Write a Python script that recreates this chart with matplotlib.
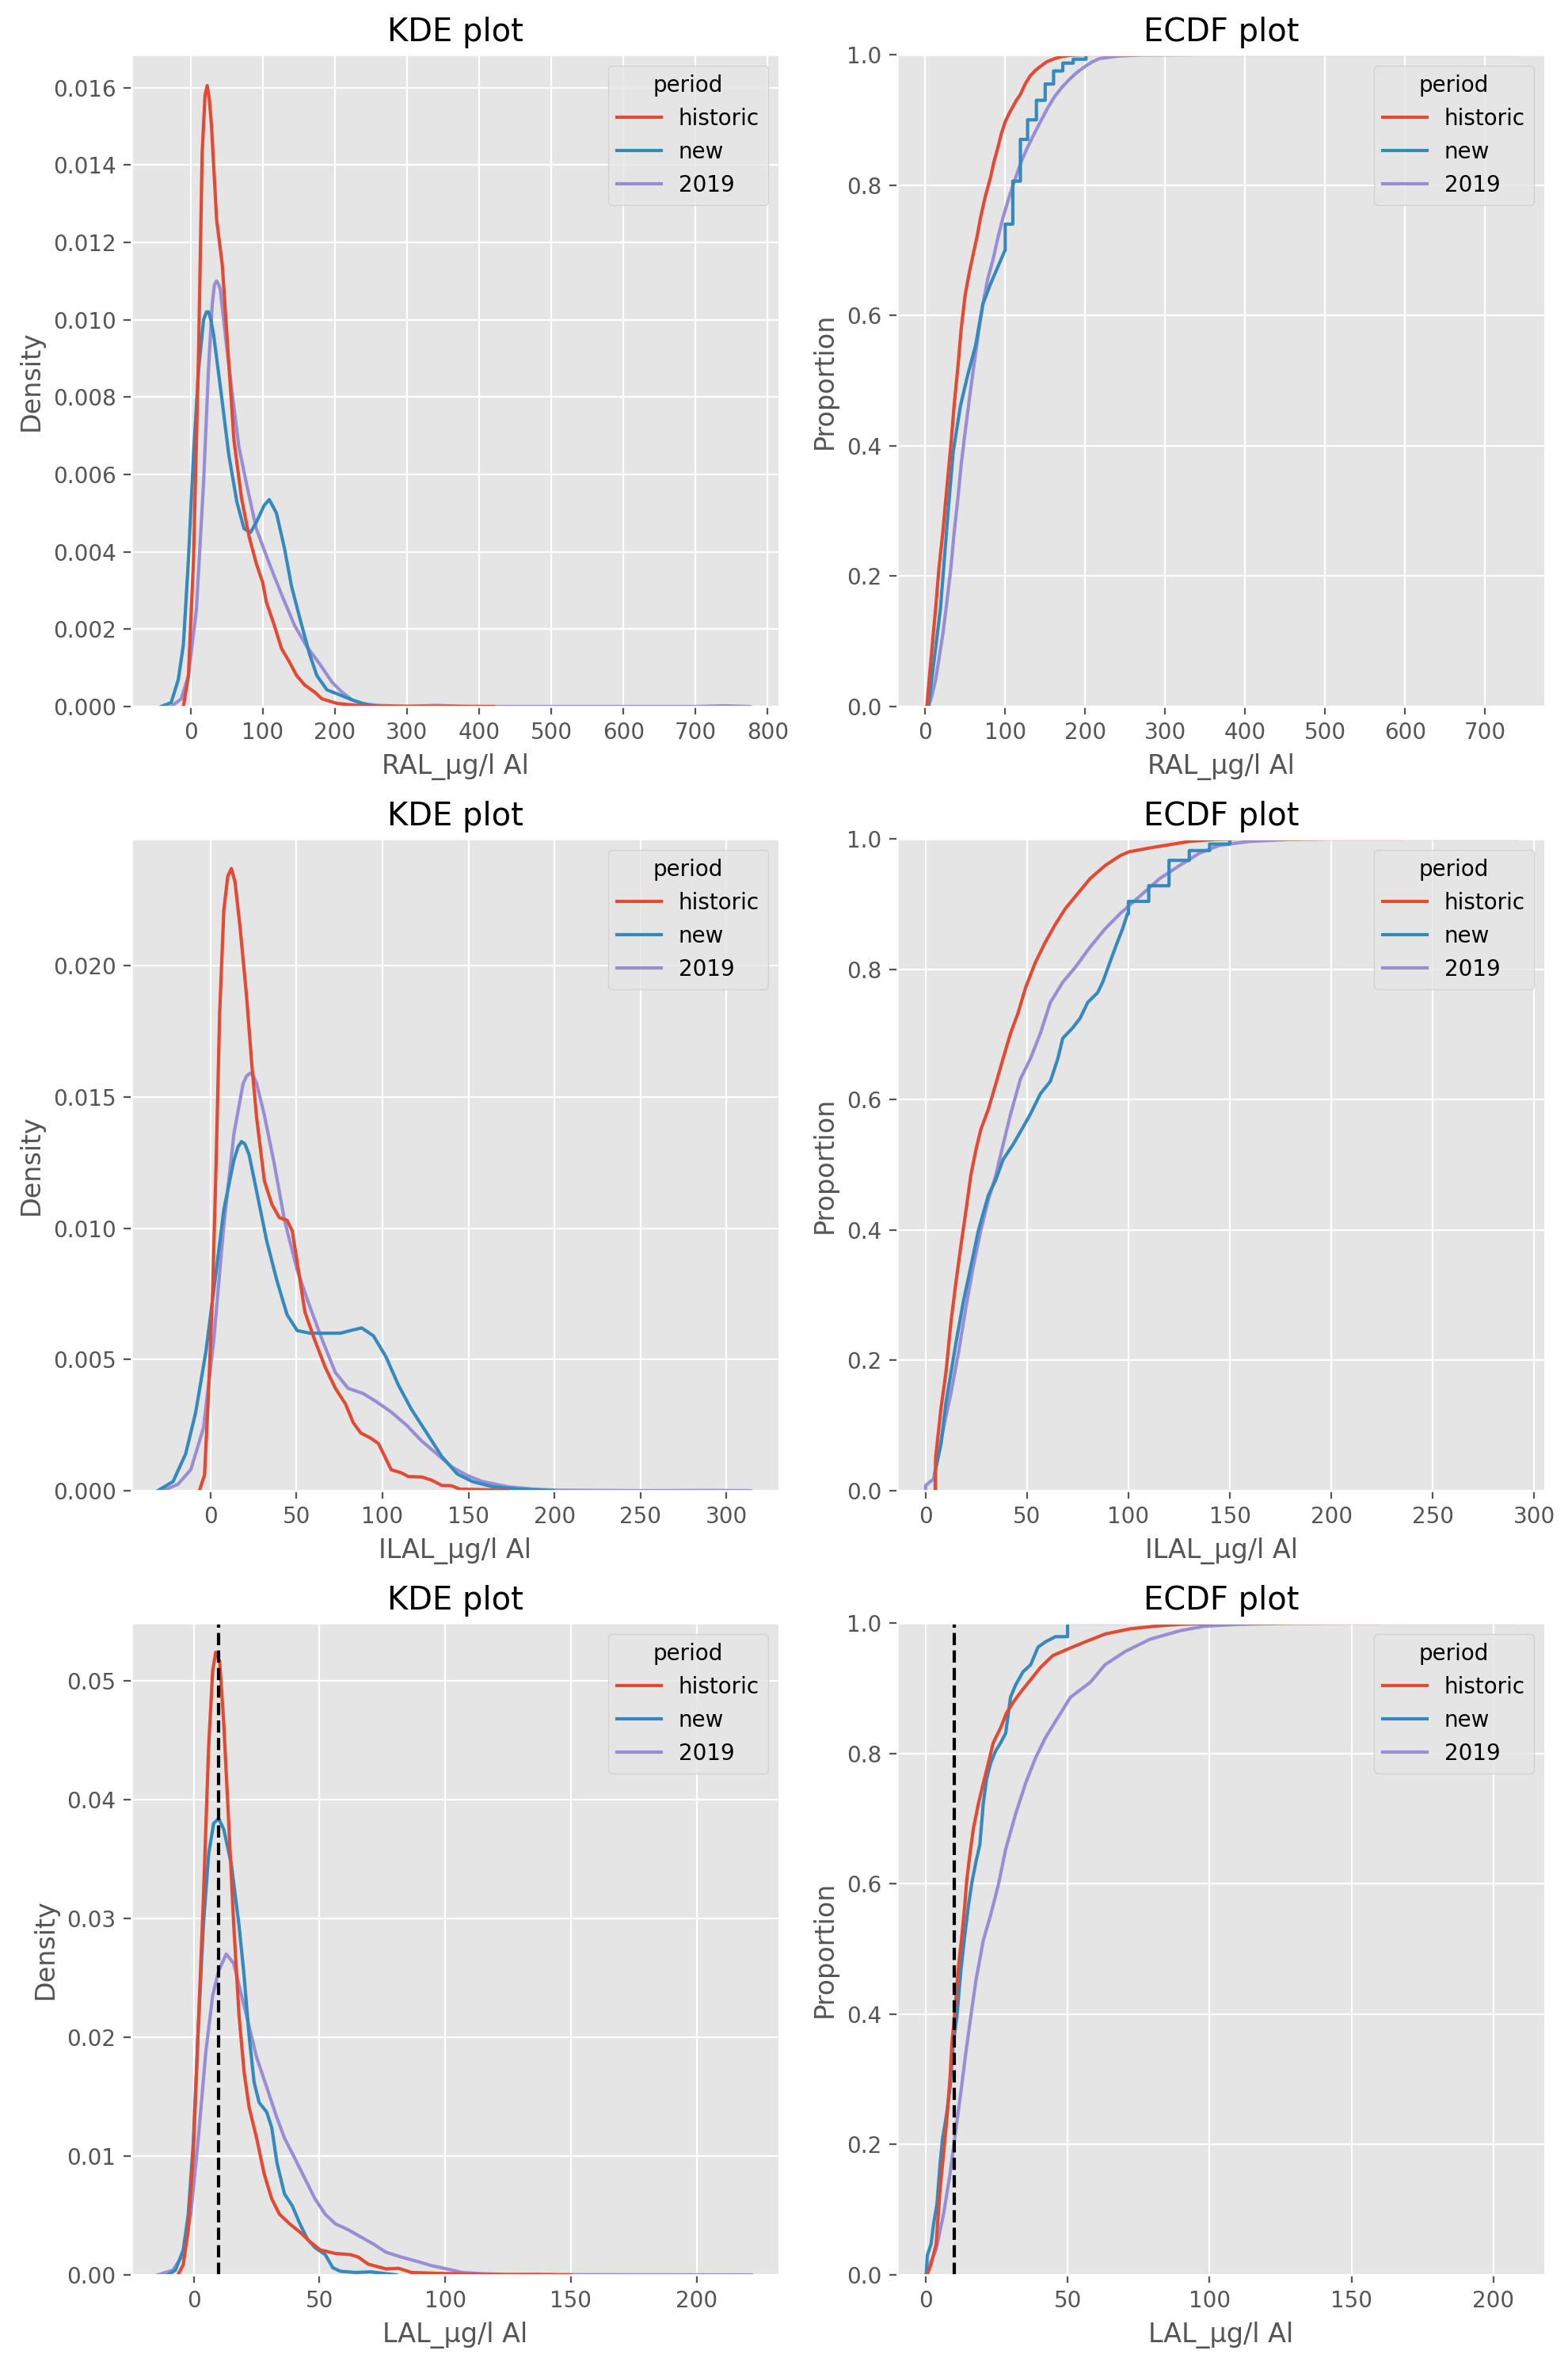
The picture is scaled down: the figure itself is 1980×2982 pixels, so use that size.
import matplotlib
matplotlib.use("Agg")
import matplotlib.pyplot as plt

plt.style.use("ggplot")

periods = ["historic", "new", "2019"]
colors = ["#E24A33", "#348ABD", "#988ED5"]
threshold = 10

# ---------------- RAL ----------------
ral_kde_hist_x = [-10, -3, 4, 11, 16, 20, 23, 26, 29, 36, 44, 50, 60, 70.5, 81, 91, 100, 105, 116, 126, 137, 147,
                  158, 172, 182, 203, 231, 260, 300, 350, 420]
ral_kde_hist_y = [0, 0.0008, 0.0038, 0.0091, 0.0143, 0.0158, 0.01605, 0.0157, 0.0150, 0.0126, 0.0114, 0.0097,
                  0.0069, 0.0054, 0.0044, 0.0037, 0.0032, 0.0027, 0.0021, 0.0015, 0.00115, 0.0008, 0.00056,
                  0.00037, 0.0002, 0.00008, 0.00003, 0.00001, 0.000005, 0.000002, 0]
ral_kde_new_x = [-41, -27, -17, -10, -3, 4, 11, 18, 22, 25, 28, 32, 43, 53, 64, 74, 83, 91, 102, 109, 119, 130,
                 140, 154, 165, 175, 189, 203, 224, 245, 266]
ral_kde_new_y = [0, 0.0001, 0.0007, 0.0016, 0.0038, 0.0065, 0.0087, 0.0100, 0.0102, 0.0102, 0.0100, 0.0096,
                 0.0080, 0.0065, 0.0053, 0.0046, 0.0045, 0.00476, 0.0052, 0.00535, 0.0050, 0.0041, 0.0031,
                 0.0021, 0.00135, 0.0008, 0.00043, 0.00033, 0.00017, 0.00004, 0]
ral_kde_2019_x = [-27, -13, -3, 8, 18, 25, 30, 33, 36, 39, 41, 50, 57, 67, 77, 91, 109, 126, 144, 161, 179, 196,
                  210, 224, 238, 259, 301, 340, 380, 450, 700, 740, 775]
ral_kde_2019_y = [0, 0.0002, 0.0008, 0.0025, 0.0058, 0.0088, 0.0104, 0.0109, 0.0110, 0.0109, 0.0108, 0.0093,
                  0.0082, 0.0067, 0.0058, 0.0046, 0.0037, 0.0029, 0.0021, 0.00155, 0.0011, 0.00063, 0.00037,
                  0.00017, 0.00008, 0.00003, 0.000005, 0.00003, 0.000005, 0, 0, 0.00002, 0]

ral_ecdf_hist_x = [2, 7, 13, 17, 22, 27, 32, 36, 41, 45, 50, 55, 60, 65, 69, 75, 81.5, 86, 91, 95, 100, 105,
                   109.5, 114, 119, 125, 131, 137, 144, 152, 162, 171, 181, 193, 206, 330]
ral_ecdf_hist_y = [0, 0.07, 0.15, 0.21, 0.267, 0.335, 0.40, 0.46, 0.523, 0.58, 0.632, 0.665, 0.694, 0.722,
                   0.749, 0.782, 0.811, 0.836, 0.858, 0.878, 0.897, 0.910, 0.920, 0.930, 0.939, 0.955, 0.967,
                   0.975, 0.982, 0.989, 0.994, 0.997, 0.999, 0.9997, 1.0, 1.0]
ral_ecdf_new_x = [4, 19, 29, 35, 44, 53, 63, 72, 81.5, 91, 99, 100, 100, 109.5, 109.5, 119, 119, 128, 128, 139,
                  139, 150, 150, 160.5, 160.5, 172, 172, 185, 185, 201, 201]
ral_ecdf_new_y = [0, 0.15, 0.305, 0.391, 0.461, 0.508, 0.554, 0.617, 0.648, 0.675, 0.698, 0.70, 0.74, 0.74,
                  0.806, 0.806, 0.87, 0.87, 0.90, 0.90, 0.93, 0.93, 0.955, 0.955, 0.975, 0.975, 0.987, 0.987,
                  0.993, 0.993, 1.0]
ral_ecdf_2019_x = [4, 8, 13, 17, 22, 27, 32, 36, 41, 45, 50, 55, 60, 66, 72, 78, 85, 91, 97, 105, 113, 120,
                   128, 136, 144, 153, 162, 171, 181, 190, 200, 209, 218, 230, 243, 270, 343, 740]
ral_ecdf_2019_y = [0, 0.015, 0.041, 0.072, 0.111, 0.160, 0.212, 0.265, 0.321, 0.372, 0.422, 0.470, 0.516,
                   0.568, 0.617, 0.655, 0.687, 0.720, 0.749, 0.782, 0.811, 0.836, 0.858, 0.878, 0.897, 0.918,
                   0.936, 0.950, 0.963, 0.973, 0.982, 0.989, 0.994, 0.996, 0.998, 0.9995, 1.0, 1.0]

# ---------------- ILAL ----------------
ilal_kde_hist_x = [-6.5, -3.5, -1.2, 1.2, 3.2, 5.3, 7.7, 10, 12.1, 14.2, 17.1, 21, 23.9, 26.8, 31.3, 35.7, 40,
                   44.5, 47.5, 50.4, 54.9, 60.8, 66.7, 72.6, 78.5, 82.9, 87.3, 93.2, 97.6, 100.6, 105, 111,
                   115, 123, 128.6, 134.5, 140, 145, 158, 173]
ilal_kde_hist_y = [0, 0.0006, 0.0037, 0.0076, 0.0124, 0.0182, 0.0221, 0.0234, 0.0237, 0.0232, 0.0215, 0.0188,
                   0.0163, 0.0142, 0.0118, 0.0109, 0.0104, 0.0103, 0.0099, 0.0087, 0.0068, 0.0057, 0.0047,
                   0.0039, 0.0033, 0.0026, 0.0022, 0.0020, 0.0018, 0.0014, 0.0008, 0.00068, 0.00054, 0.00052,
                   0.0004, 0.0002, 0.00019, 0.00006, 0.00004, 0]
ilal_kde_new_x = [-30.7, -21.8, -14.5, -8.6, -2.7, 1.8, 7.7, 13.6, 16, 18, 20, 22.4, 26.8, 32.7, 38.6, 44.5,
                  50.4, 57.8, 66.7, 75.5, 81.4, 87.9, 94.7, 102, 109.4, 116.8, 125.7, 134.5, 143.4, 152.2, 164,
                  178.8, 199]
ilal_kde_new_y = [0, 0.00035, 0.0014, 0.003, 0.0053, 0.0076, 0.0107, 0.0126, 0.0131, 0.0133, 0.0132, 0.0128,
                  0.0114, 0.0095, 0.0080, 0.0067, 0.0061, 0.0060, 0.0060, 0.0060, 0.0061, 0.0062, 0.0059,
                  0.0051, 0.0040, 0.0031, 0.0022, 0.0013, 0.00064, 0.00035, 0.00015, 0.00006, 0]
ilal_kde_2019_x = [-27.7, -18.9, -11.5, -4.1, 1.8, 7.7, 13.6, 18.9, 21, 23, 25, 26.8, 31.3, 37.2, 43, 50.4,
                   57.8, 65.2, 72.6, 80, 88.8, 96.2, 105, 113.9, 122.7, 131.6, 140.4, 149.3, 158, 173, 187.6,
                   202, 250, 290, 314]
ilal_kde_2019_y = [0, 0.00025, 0.0008, 0.0024, 0.0057, 0.0101, 0.0136, 0.0155, 0.0158, 0.0159, 0.0158,
                   0.0155, 0.0143, 0.0124, 0.0103, 0.0084, 0.0070, 0.0057, 0.0045, 0.0039, 0.0037, 0.0034,
                   0.0030, 0.0025, 0.0019, 0.0014, 0.0009, 0.00058, 0.00035, 0.00015, 0.00006, 0.00002, 0,
                   0.00001, 0]

ilal_ecdf_hist_x = [4.9, 4.9, 7.6, 10, 12.5, 15, 17.4, 19.9, 22.3, 24.8, 27.2, 30.9, 34.6, 38.2, 41.9, 45.6,
                    49.3, 54.2, 59.1, 64, 68.9, 75, 81.1, 88.5, 95.8, 100.2, 110.5, 120.3, 130, 142.4, 154.7, 234]
ilal_ecdf_hist_y = [0, 0.05, 0.127, 0.181, 0.259, 0.321, 0.376, 0.430, 0.484, 0.523, 0.554, 0.585, 0.624,
                    0.663, 0.702, 0.733, 0.772, 0.811, 0.842, 0.869, 0.893, 0.916, 0.939, 0.959, 0.974, 0.980,
                    0.986, 0.991, 0.996, 0.999, 1.0, 1.0]
ilal_ecdf_new_x = [4.7, 4.7, 7.6, 10, 12.5, 15, 18.6, 22.3, 26, 30.9, 34.6, 38.2, 43.1, 46.8, 51.7, 56.6, 61.5,
                   65.2, 67.6, 72.5, 76.2, 79.9, 84.8, 87.3, 90.9, 94.6, 97.1, 99.5, 100, 100, 110, 110, 120,
                   120, 130, 130, 140, 140, 150, 150]
ilal_ecdf_new_y = [0, 0.03, 0.072, 0.135, 0.181, 0.228, 0.290, 0.344, 0.399, 0.453, 0.477, 0.508, 0.531,
                   0.551, 0.578, 0.609, 0.628, 0.663, 0.694, 0.710, 0.725, 0.749, 0.764, 0.780, 0.811, 0.842,
                   0.862, 0.885, 0.885, 0.904, 0.904, 0.928, 0.928, 0.967, 0.967, 0.982, 0.982, 0.992, 0.992,
                   1.0]
ilal_ecdf_2019_x = [0, 0, 3.9, 6.4, 8.8, 12.5, 16.2, 19.9, 23.5, 27.2, 30.9, 34.6, 38.2, 41.9, 46.8, 51.7,
                    56.6, 61.5, 67.6, 73.8, 81.1, 88.5, 95.8, 105.6, 115.4, 125.2, 135, 144.9, 159.6, 179,
                    200, 291.4]
ilal_ecdf_2019_y = [0, 0.008, 0.018, 0.057, 0.096, 0.150, 0.212, 0.282, 0.344, 0.399, 0.446, 0.484, 0.531,
                    0.578, 0.632, 0.663, 0.702, 0.749, 0.780, 0.803, 0.834, 0.862, 0.885, 0.912, 0.939, 0.959,
                    0.978, 0.990, 0.996, 0.999, 1.0, 1.0]

# ---------------- LAL ----------------
lal_kde_hist_x = [-6.3, -4.2, -2.2, -0.2, 1.8, 3.8, 5.9, 7.5, 8.7, 10.3, 11.9, 13.9, 15.9, 18, 20, 22, 25, 28,
                  31, 34.1, 38.1, 42.2, 46.2, 50.3, 56.3, 62.4, 65.4, 69.4, 76.5, 81.5, 86.6, 96.7, 104.7,
                  114.8, 125, 150]
lal_kde_hist_y = [0, 0.00085, 0.0038, 0.0102, 0.0209, 0.0316, 0.0444, 0.0508, 0.0524, 0.0516, 0.0465, 0.0380,
                  0.0294, 0.0218, 0.0171, 0.0141, 0.0115, 0.0085, 0.0064, 0.0051, 0.0043, 0.0036, 0.0028,
                  0.0021, 0.0018, 0.0017, 0.0015, 0.0009, 0.0005, 0.00055, 0.0002, 0.00013, 0.00009, 0.00004,
                  0.00001, 0]
lal_kde_new_x = [-10.3, -7.3, -4.2, -2.2, -0.2, 1.8, 3.8, 5.9, 7.9, 9.9, 11.9, 14.9, 18, 20, 22, 24, 26, 29,
                 31, 33.1, 36.1, 39.2, 42.2, 45.2, 48.2, 52.3, 55.3, 58.3, 64.4, 70.4, 76.5, 80.5]
lal_kde_new_y = [0, 0.0004, 0.0021, 0.0051, 0.0111, 0.0209, 0.0294, 0.0354, 0.0380, 0.0384, 0.0375, 0.0346,
                 0.0294, 0.0252, 0.0201, 0.0162, 0.0145, 0.0137, 0.0124, 0.0094, 0.0068, 0.0058, 0.0043,
                 0.0030, 0.0023, 0.0017, 0.0006, 0.0003, 0.0002, 0.00025, 0.0001, 0]
lal_kde_2019_x = [-14.3, -8.3, -4.2, -1.2, 1.8, 4.8, 7.5, 9.9, 12.9, 15.9, 19, 22, 25, 29, 33.1, 36.1, 40.2,
                  44.2, 48.2, 52.3, 56.3, 61.4, 66.4, 71.4, 76.5, 82.5, 88.6, 94.7, 100.7, 106.8, 114.8, 125,
                  135, 145, 180, 221.8]
lal_kde_2019_y = [0, 0.0004, 0.0017, 0.0051, 0.0115, 0.0188, 0.0235, 0.0256, 0.0270, 0.0262, 0.0235, 0.0209,
                  0.0183, 0.0158, 0.0132, 0.0115, 0.0098, 0.0081, 0.0064, 0.0051, 0.0043, 0.0038, 0.0032,
                  0.0026, 0.0019, 0.0015, 0.00115, 0.00077, 0.0005, 0.0002, 0.0001, 0.00004, 0.00006,
                  0.00002, 0.00001, 0]

lal_ecdf_hist_x = [0.5, 1.9, 3.7, 5.1, 6.5, 7.5, 8.6, 9.3, 10.3, 11.6, 12.8, 13.8, 14.5, 15.6, 16.8, 18.6,
                   20.3, 22.1, 23.8, 26.4, 28.5, 30.8, 33.5, 37, 40.5, 44.8, 50.1, 56.2, 63.2, 72, 80.7, 89.5,
                   101.8, 120, 160]
lal_ecdf_hist_y = [0, 0.016, 0.047, 0.132, 0.194, 0.241, 0.303, 0.357, 0.404, 0.474, 0.521, 0.567, 0.606,
                   0.645, 0.684, 0.723, 0.754, 0.785, 0.816, 0.839, 0.862, 0.878, 0.894, 0.913, 0.932, 0.950,
                   0.960, 0.971, 0.983, 0.991, 0.995, 0.998, 0.9995, 1.0, 1.0]
lal_ecdf_new_x = [0.2, 0.6, 1.9, 2.8, 4, 5.1, 6, 7.2, 8.6, 9.8, 11, 12.4, 13.8, 15.1, 16.3, 17.7, 19.1, 20.3,
                  21.5, 22.9, 24.7, 26.4, 28.2, 29.9, 31.7, 34.3, 37, 39.6, 42.2, 45.7, 49.6, 50, 50, 70.2]
lal_ecdf_new_y = [0, 0.03, 0.047, 0.078, 0.109, 0.171, 0.210, 0.241, 0.287, 0.357, 0.396, 0.466, 0.521,
                  0.567, 0.602, 0.633, 0.660, 0.723, 0.761, 0.785, 0.804, 0.816, 0.831, 0.886, 0.905, 0.925,
                  0.936, 0.963, 0.971, 0.979, 0.979, 0.979, 1.0, 1.0]
lal_ecdf_2019_x = [0, 3.7, 6.3, 8.6, 10.7, 12.4, 14.2, 15.9, 17.7, 20.3, 22.9, 25.6, 28.2, 31.7, 35.2, 38.7,
                   42.2, 46.6, 51, 58, 63.2, 70.2, 79, 89.5, 98.2, 110.5, 128, 150, 208.2]
lal_ecdf_2019_y = [0, 0.039, 0.093, 0.155, 0.225, 0.280, 0.342, 0.396, 0.451, 0.513, 0.552, 0.598, 0.653,
                   0.707, 0.754, 0.793, 0.824, 0.855, 0.886, 0.909, 0.936, 0.956, 0.975, 0.988, 0.995, 0.998,
                   0.9995, 1.0, 1.0]

rows = [
    dict(label="RAL_µg/l Al",
         kde=[(ral_kde_hist_x, ral_kde_hist_y), (ral_kde_new_x, ral_kde_new_y), (ral_kde_2019_x, ral_kde_2019_y)],
         ecdf=[(ral_ecdf_hist_x, ral_ecdf_hist_y), (ral_ecdf_new_x, ral_ecdf_new_y), (ral_ecdf_2019_x, ral_ecdf_2019_y)],
         kde_xlim=(-82, 816), kde_ylim=(0, 0.01685), kde_xticks=range(0, 801, 100),
         ecdf_xlim=(-35, 775), ecdf_xticks=range(0, 701, 100), vline=False),
    dict(label="ILAL_µg/l Al",
         kde=[(ilal_kde_hist_x, ilal_kde_hist_y), (ilal_kde_new_x, ilal_kde_new_y), (ilal_kde_2019_x, ilal_kde_2019_y)],
         ecdf=[(ilal_ecdf_hist_x, ilal_ecdf_hist_y), (ilal_ecdf_new_x, ilal_ecdf_new_y), (ilal_ecdf_2019_x, ilal_ecdf_2019_y)],
         kde_xlim=(-46, 330.7), kde_ylim=(0, 0.02483), kde_xticks=range(0, 301, 50),
         ecdf_xlim=(-14, 305.4), ecdf_xticks=range(0, 301, 50), vline=False),
    dict(label="LAL_µg/l Al",
         kde=[(lal_kde_hist_x, lal_kde_hist_y), (lal_kde_new_x, lal_kde_new_y), (lal_kde_2019_x, lal_kde_2019_y)],
         ecdf=[(lal_ecdf_hist_x, lal_ecdf_hist_y), (lal_ecdf_new_x, lal_ecdf_new_y), (lal_ecdf_2019_x, lal_ecdf_2019_y)],
         kde_xlim=(-24.8, 232.9), kde_ylim=(0, 0.05486), kde_xticks=range(0, 201, 50),
         ecdf_xlim=(-10, 218.2), ecdf_xticks=range(0, 201, 50), vline=True),
]

W, H = 1980, 2982
fig = plt.figure(figsize=(W / 200, H / 200), dpi=200)

row_bottoms_px = [892, 1882, 2872]
ax_h_px = 823
left_kde = (166, 818)
left_ecdf = (1133, 818)

for r, row in enumerate(rows):
    b = 1 - row_bottoms_px[r] / H
    h = ax_h_px / H
    ax_k = fig.add_axes([left_kde[0] / W, b, left_kde[1] / W, h])
    ax_e = fig.add_axes([left_ecdf[0] / W, b, left_ecdf[1] / W, h])

    # hue levels drawn in reverse order (last level at the bottom)
    lines = {}
    for i in [2, 1, 0]:
        x, y = row["kde"][i]
        lines[i], = ax_k.plot(x, y, color=colors[i], lw=1.5, label=periods[i])
    ax_k.set_xlim(*row["kde_xlim"])
    ax_k.set_ylim(*row["kde_ylim"])
    ax_k.set_xticks(list(row["kde_xticks"]))
    ax_k.set_title("KDE plot")
    ax_k.set_xlabel(row["label"])
    ax_k.set_ylabel("Density")
    ax_k.legend([lines[0], lines[1], lines[2]], periods, title="period", loc="upper right")

    elines = {}
    for i in [2, 1, 0]:
        x, y = row["ecdf"][i]
        elines[i], = ax_e.plot(x, y, color=colors[i], lw=1.5, label=periods[i])
    ax_e.set_xlim(*row["ecdf_xlim"])
    ax_e.set_ylim(0, 1)
    ax_e.set_xticks(list(row["ecdf_xticks"]))
    ax_e.set_title("ECDF plot")
    ax_e.set_xlabel(row["label"])
    ax_e.set_ylabel("Proportion")
    ax_e.legend([elines[0], elines[1], elines[2]], periods, title="period", loc="upper right")

    if row["vline"]:
        ax_k.axvline(threshold, color="black", ls="--", lw=1.5)
        ax_e.axvline(threshold, color="black", ls="--", lw=1.5)

fig.savefig("out.png", dpi=200)
